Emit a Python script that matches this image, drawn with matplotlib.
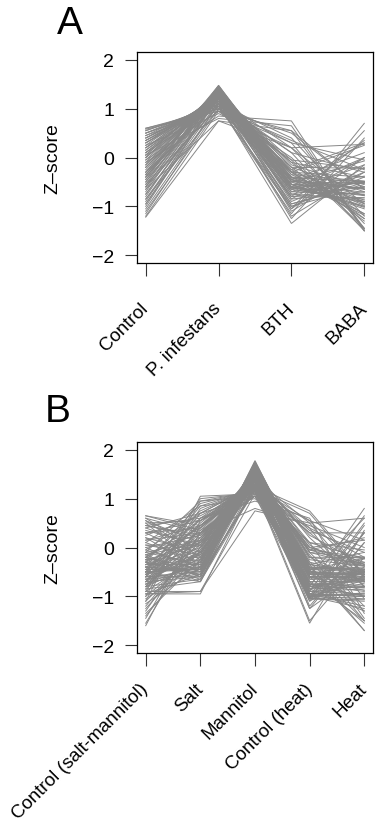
import numpy as np
import matplotlib
matplotlib.use('Agg')
import matplotlib.pyplot as plt

plt.rcParams['font.family'] = ['Liberation Sans', 'DejaVu Sans']

# panel A: z-scores per gene for each condition
labels_a = ['Control', 'P. infestans', 'BTH', 'BABA']
a_control = [-0.45, -0.40, -0.35, -0.55, -0.30, -0.20, -0.60, -0.25, -0.10, -0.70,
             0.05, -0.80, 0.15, 0.25, -0.90, 0.30, 0.35, 0.40, -1.00, 0.45,
             0.50, 0.55, 0.20, 0.10, -0.15, 0.00, 0.30, 0.40, 0.55, 0.60,
             0.58, 0.45, 0.30, 0.20, 0.10, -0.05, 0.05, -0.10, -0.30, -0.45,
             -1.20, -1.22, -1.10, -1.05, -0.95, -0.85, -0.75, -0.65, -0.55, -0.60,
             -0.35, -0.20, -0.50, -0.75, -0.40, 0.00, 0.15, 0.35, 0.50, 0.25,
             -0.20, -0.05, 0.10, -0.35, -0.15, 0.05, 0.20, 0.40, 0.60, -0.85,
             -0.65, -0.50, -0.30, 0.00, -0.95, -1.15, 0.50, 0.35, -0.40, -0.60]
a_pinf = [1.48, 1.45, 1.44, 1.46, 1.42, 1.40, 1.43, 1.38, 1.36, 1.40,
          1.33, 1.37, 1.30, 1.28, 1.32, 1.25, 1.22, 1.20, 1.28, 1.15,
          1.12, 1.08, 1.26, 1.30, 1.35, 1.30, 1.20, 1.10, 1.05, 1.00,
          0.95, 1.00, 1.10, 1.15, 1.05, 0.95, 0.80, 0.85, 1.10, 1.20,
          0.95, 0.75, 1.00, 1.10, 1.15, 1.20, 1.25, 1.30, 1.05, 1.05,
          1.20, 1.25, 1.35, 1.20, 1.25, 1.20, 1.18, 1.10, 1.00, 0.90,
          1.28, 1.32, 1.25, 1.38, 1.40, 1.35, 1.30, 1.15, 0.95, 1.00,
          0.75, 1.40, 1.47, 1.38, 1.25, 1.10, 1.05, 1.15, 1.30, 1.35]
a_bth = [-0.50, -0.55, -0.45, -0.42, -0.60, -0.70, -0.35, -0.48, -0.55, -0.30,
         -0.62, -0.50, -0.70, -0.60, -0.20, -0.85, -0.55, -0.75, -0.05, -0.60,
         -0.80, -0.45, -0.95, -1.00, -0.90, -1.10, -1.20, -1.35, -1.00, -0.55,
         -0.05, 0.00, 0.10, -0.10, 0.30, 0.55, 0.65, 0.75, 0.40, 0.20,
         0.30, 0.20, 0.35, -0.30, 0.10, -0.45, -0.10, -0.65, -1.05, -1.15,
         -1.25, -1.05, -0.85, -0.80, -0.70, -0.25, -0.35, -0.30, -0.20, 0.20,
         -0.30, -0.40, -0.45, -0.65, -0.75, -0.80, -0.50, -0.40, -0.30, 0.50,
         0.55, -0.40, -0.55, -0.60, -0.60, -0.25, -0.65, -0.95, -0.20, -0.15]
a_baba = [-0.53, -0.50, -0.64, -0.49, -0.52, -0.50, -0.48, -0.65, -0.71, -0.40,
          -0.76, -0.07, -0.75, -0.93, -0.22, -0.70, -1.02, -0.85, -0.23, -1.00,
          -0.82, -1.18, -0.51, -0.40, -0.30, -0.20, -0.30, -0.15, -0.60, -1.05,
          -1.48, -1.45, -1.50, -1.25, -1.45, -1.45, -1.50, -1.50, -1.20, -0.95,
          -0.05, 0.27, -0.25, 0.25, -0.30, 0.10, -0.40, 0.00, 0.55, 0.70,
          0.40, 0.00, 0.00, 0.35, -0.15, -0.95, -0.98, -1.15, -1.30, -1.35,
          -0.78, -0.87, -0.90, -0.38, -0.50, -0.60, -1.00, -1.15, -1.25, -0.65,
          -0.65, -0.50, -0.62, -0.78, 0.30, 0.30, -0.90, -0.55, -0.70, -0.60]

# panel B
labels_b = ['Control (salt-mannitol)', 'Salt', 'Mannitol', 'Control (heat)', 'Heat']
b_control = [-0.45, -0.40, -0.50, -0.35, -0.55, -0.30, -0.60, -0.20, -0.65, -0.25,
             -0.70, -0.10, -0.40, -0.80, 0.00, -0.50, -0.90, 0.10, -0.30, -0.75,
             0.20, -1.00, -0.15, 0.30, -0.60, -1.10, 0.40, -0.35, 0.00, -0.85,
             0.45, -0.20, -1.20, 0.50, -0.50, 0.15, -1.30, 0.55, -0.70, -0.05,
             -1.45, 0.60, -0.90, 0.25, -1.60, 0.65, -1.00, -0.30, -1.10, -0.60,
             0.10, 0.30, -0.20, 0.45, -0.40, 0.05, -0.55, -0.95, -0.90, -0.80,
             -0.70, -0.60, -0.85, -0.50, -1.05, -1.55, -0.30, -0.65, -0.50, -0.40,
             -0.75, -0.20, -0.55, -0.05, -0.35, -0.80, -0.45, 0.15, 0.35, 0.55,
             0.65, 0.50, 0.40, -0.10, -0.50, -0.80, -0.70, -1.25, -1.35, -0.95,
             -0.60, -0.25, -0.15, -0.65, -0.35, -0.45, -0.25, 0.20, -0.10, -0.75,
             0.30, -0.55, -0.15, 0.05, -0.40, -1.40, -1.15, 0.60, 0.45, -0.25, -0.95]
b_salt = [-0.45, -0.50, -0.40, -0.35, -0.30, -0.55, -0.25, -0.45, -0.40, -0.20,
          -0.10, -0.35, 0.00, -0.30, -0.50, 0.10, -0.20, -0.30, 0.20, 0.05,
          -0.10, -0.10, 0.30, -0.25, 0.35, 0.00, 0.00, 0.45, 0.25, 0.40,
          0.20, 0.55, 0.15, -0.40, 0.60, 0.45, 0.30, 0.10, 0.70, 0.70,
          0.45, 0.30, 0.80, 0.65, 0.55, 0.45, 0.95, 0.90, 1.05, 1.00,
          0.85, 0.55, 0.40, 0.25, 0.15, 0.05, -0.15, -0.95, -0.90, -0.65,
          -0.60, -0.50, -0.70, -0.45, -0.30, 0.30, -0.65, -0.55, -0.70, -0.45,
          -0.30, -0.60, -0.10, -0.40, 0.10, 0.20, 0.45, 0.30, 0.05, -0.20,
          0.35, 0.55, 0.70, 0.95, 0.85, 0.60, 0.30, 0.00, -0.25, -0.55,
          -0.60, -0.70, -0.60, -0.15, -0.25, -0.05, 0.05, -0.45, 0.15, -0.45,
          0.40, 0.50, 0.10, -0.15, -0.55, -0.05, -0.40, -0.10, 0.60, 0.75, -0.90]
b_mannitol = [1.78, 1.76, 1.75, 1.74, 1.72, 1.72, 1.70, 1.70, 1.68, 1.68,
              1.65, 1.65, 1.62, 1.62, 1.60, 1.60, 1.58, 1.58, 1.55, 1.55,
              1.52, 1.52, 1.50, 1.50, 1.48, 1.45, 1.45, 1.45, 1.42, 1.40,
              1.40, 1.38, 1.38, 1.38, 1.35, 1.35, 1.30, 1.30, 1.30, 1.28,
              1.25, 1.25, 1.22, 1.22, 1.18, 1.15, 1.15, 1.18, 1.10, 1.12,
              1.20, 1.30, 1.45, 1.35, 1.55, 1.50, 1.60, 1.30, 1.10, 1.25,
              1.20, 1.40, 1.35, 1.55, 1.45, 0.80, 1.25, 1.15, 1.20, 1.35,
              1.30, 1.40, 1.45, 1.55, 1.40, 1.35, 1.20, 1.25, 1.30, 1.20,
              1.05, 1.10, 1.05, 1.05, 1.00, 0.95, 1.05, 1.25, 1.35, 1.45,
              1.65, 1.62, 1.58, 1.66, 1.70, 1.64, 1.60, 1.55, 1.60, 1.60,
              1.25, 1.40, 1.50, 1.55, 1.50, 1.30, 1.40, 1.25, 1.15, 1.25, 0.75]
b_control_heat = [-0.44, -0.42, -0.35, -0.50, -0.40, -0.30, -0.45, -0.55, -0.25, -0.60,
                  -0.40, -0.65, -0.52, -0.20, -0.50, -0.60, -0.10, -0.70, -0.80, -0.35,
                  -0.80, -0.05, -0.85, -0.75, -0.60, 0.00, -0.90, -0.95, -1.00, -0.45,
                  -1.00, -1.00, -0.10, -0.60, -1.05, -1.00, 0.00, -0.95, -0.80, -1.00,
                  -0.05, -1.05, -0.60, -1.05, 0.10, -1.00, -0.55, -0.80, -0.50, -0.75,
                  -0.60, -0.45, -0.15, -0.35, -0.10, -0.30, -0.20, 0.30, 0.55, 0.75,
                  0.70, 0.50, 0.40, 0.20, 0.25, 0.45, 0.30, -0.55, -0.80, -1.00,
                  -0.90, -1.05, -1.10, -1.20, -1.25, -1.05, -1.55, -1.50, -1.25, -1.10,
                  -1.05, -0.95, -0.85, -0.40, 0.10, 0.60, 0.40, 0.55, 0.35, 0.10,
                  -0.35, -0.45, -0.60, -0.55, -0.62, -0.48, -0.70, -0.65, -0.75, -0.20,
                  -0.95, -0.85, -0.75, -0.85, 0.05, -0.05, 0.00, -0.75, -0.70, -0.90, 0.50]
b_heat = [-0.44, -0.44, -0.50, -0.54, -0.47, -0.57, -0.40, -0.50, -0.38, -0.63,
          -0.45, -0.55, -0.70, -0.32, -0.60, -0.60, -0.38, -0.68, -0.65, -0.50,
          -0.82, -0.37, -0.80, -0.80, -0.63, -0.35, -0.95, -0.60, -0.67, -0.50,
          -1.05, -0.73, -0.23, -0.88, -0.40, -0.95, -0.30, -1.00, -0.50, -0.93,
          -0.20, -1.10, -0.52, -1.07, -0.23, -1.25, -0.55, -0.98, -0.55, -0.77,
          -1.55, -1.70, -1.50, -1.70, -1.20, -1.30, -0.70, 0.30, 0.15, -0.55,
          -0.60, -0.80, -0.20, -0.80, -0.35, 0.00, -0.60, 0.60, 0.80, 0.50,
          0.65, 0.45, 0.30, 0.10, 0.10, 0.30, 0.35, -0.20, -0.45, -0.45,
          -1.00, -1.20, -1.30, -1.50, -1.45, -1.35, -1.05, -0.55, -0.10, -0.05,
          -0.10, -0.22, -0.23, -0.31, -0.48, -0.66, -0.70, -0.65, -0.90, -0.20,
          -1.00, -0.50, -0.70, -0.60, -0.60, 0.20, 0.15, -1.00, -1.50, -0.85, 0.60]

line_col = '#878787'


def profile_panel(ax, columns, labels, label_off):
    '''
    draws one gray line per gene across the conditions, R base style
    '''
    data = np.array(columns)
    n = data.shape[0]
    x = np.arange(1, n + 1)
    ax.plot(x, data, color=line_col, lw=0.7, solid_joinstyle='miter')
    ax.set_xlim(1 - 0.04 * (n - 1), n + 0.04 * (n - 1))
    ax.set_ylim(-2.16, 2.16)
    ax.set_yticks([-2, -1, 0, 1, 2])
    ax.set_xticks(x)
    ax.set_xticklabels([])
    ax.tick_params(direction='out', length=9, width=0.8, pad=7.5,
                   labelsize=14, color='#333333')
    for s in ax.spines.values():
        s.set_linewidth(0.9)
    for xi, lab in zip(x, labels):
        ax.annotate(lab, xy=(xi, 0), xycoords=('data', 'axes fraction'),
                    xytext=(0, -label_off), textcoords='offset pixels',
                    rotation=45, ha='right', va='center',
                    rotation_mode='anchor', fontsize=13.5, annotation_clip=False)
    ax.text(-0.356, 0.5, 'Z\u2013score', rotation=90, ha='center',
            va='center', transform=ax.transAxes, fontsize=14)


fig = plt.figure(figsize=(3.83, 8.29), dpi=100)
ax1 = fig.add_axes([0.3577, 0.6815, 0.6162, 0.2545])
profile_panel(ax1, [a_control, a_pinf, a_bth, a_baba], labels_a, 42)
ax2 = fig.add_axes([0.3577, 0.2111, 0.6162, 0.2545])
profile_panel(ax2, [b_control, b_salt, b_mannitol, b_control_heat, b_heat], labels_b, 33)

fig.text(57 / 383, 1 - 34 / 829, 'A', fontsize=28, ha='left', va='baseline')
fig.text(45 / 383, 1 - 422 / 829, 'B', fontsize=28, ha='left', va='baseline')

fig.savefig('out.png', dpi=100)
